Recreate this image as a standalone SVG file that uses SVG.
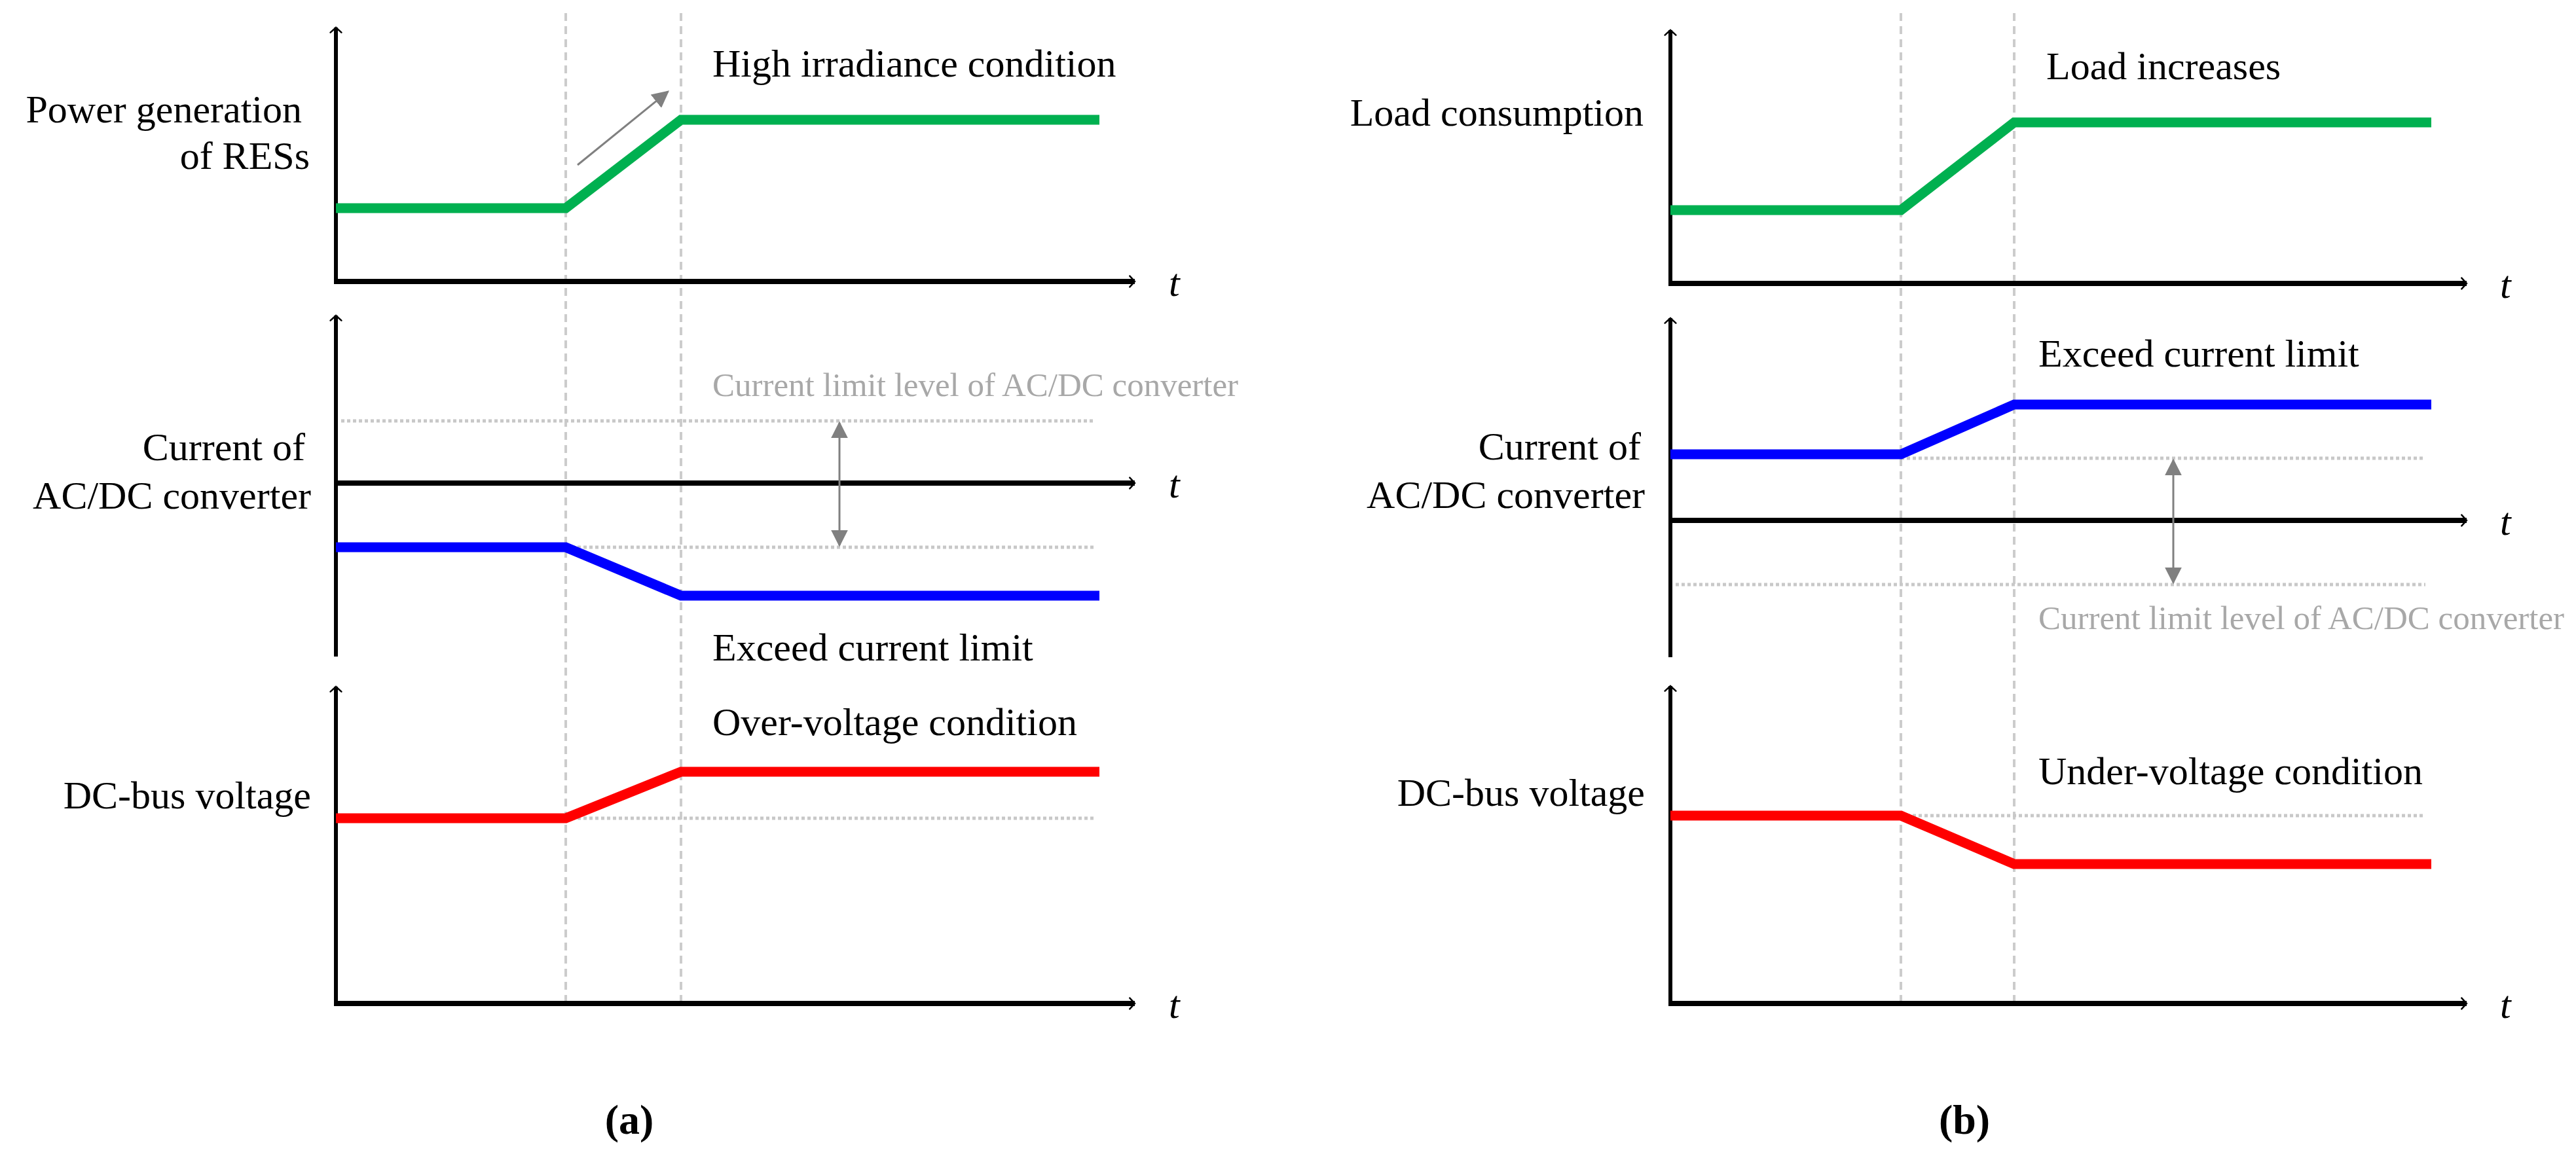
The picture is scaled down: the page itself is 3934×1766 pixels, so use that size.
<svg xmlns="http://www.w3.org/2000/svg" width="3934" height="1766" viewBox="0 0 3934 1766">
<defs>
<marker id="chev" viewBox="0 0 20 20" refX="17" refY="10" markerWidth="7" markerHeight="7" markerUnits="userSpaceOnUse" orient="auto" overflow="visible">
<path d="M-22,-14 L0,10 L-22,34" transform="translate(17,0)" fill="none" stroke="#000" stroke-width="7" stroke-linecap="round" stroke-linejoin="miter"/>
</marker>
<marker id="gh" viewBox="0 0 10 10" refX="9" refY="5" markerWidth="26" markerHeight="26" markerUnits="userSpaceOnUse" orient="auto-start-reverse">
<path d="M0,0 L10,5 L0,10 Z" fill="#808080"/>
</marker>
</defs>
<style>
text{font-family:"Liberation Serif","Times New Roman",serif;fill:#000;font-size:60px}
.lbl{text-anchor:end}
.gray{fill:#a8a8a8;font-size:51px}
.t{font-style:italic}
.cap{font-weight:bold;font-size:64px;text-anchor:middle}
.ax{stroke:#000;stroke-width:6;fill:none}
.xax{stroke:#000;stroke-width:8;fill:none}
.vd{stroke:#cccccc;stroke-width:4;stroke-dasharray:12 8;fill:none}
.hd{stroke:#c8c8c8;stroke-width:5;stroke-dasharray:5 4;fill:none}
.g{stroke:#00b050;stroke-width:15;fill:none;stroke-linejoin:miter}
.b{stroke:#0000ff;stroke-width:15;fill:none}
.r{stroke:#ff0000;stroke-width:15;fill:none}
.ga{stroke:#808080;stroke-width:3;fill:none}
</style>
<g id="connectors">
<!-- panel a -->
<line class="vd" x1="864" y1="20" x2="864" y2="1530"/>
<line class="vd" x1="1040" y1="20" x2="1040" y2="1530"/>
<line class="hd" x1="521" y1="643" x2="1670" y2="643"/>
<line class="hd" x1="864" y1="836" x2="1670" y2="836"/>
<line class="hd" x1="864" y1="1250" x2="1670" y2="1250"/>
<line class="ax" x1="513" y1="433" x2="513" y2="42" marker-end="url(#chev)"/>
<line class="xax" x1="510" y1="430" x2="1733" y2="430" marker-end="url(#chev)"/>
<line class="ax" x1="513" y1="1003" x2="513" y2="482" marker-end="url(#chev)"/>
<line class="xax" x1="513" y1="738" x2="1733" y2="738" marker-end="url(#chev)"/>
<line class="ax" x1="513" y1="1536" x2="513" y2="1049" marker-end="url(#chev)"/>
<line class="xax" x1="510" y1="1533" x2="1733" y2="1533" marker-end="url(#chev)"/>
<polyline class="g" points="513,318 864,318 1040,183 1679,183"/>
<polyline class="b" points="513,836 864,836 1040,910 1679,910"/>
<polyline class="r" points="513,1250 864,1250 1040,1179 1679,1179"/>
<line class="ga" x1="882" y1="252" x2="1020" y2="140" marker-end="url(#gh)"/>
<line class="ga" x1="1282" y1="646" x2="1282" y2="833" marker-start="url(#gh)" marker-end="url(#gh)"/>
<!-- panel b -->
<line class="vd" x1="2903" y1="20" x2="2903" y2="1530"/>
<line class="vd" x1="3076" y1="20" x2="3076" y2="1530"/>
<line class="hd" x1="2903" y1="700" x2="3704" y2="700"/>
<line class="hd" x1="2559" y1="893" x2="3704" y2="893"/>
<line class="hd" x1="2903" y1="1246" x2="3704" y2="1246"/>
<line class="ax" x1="2551" y1="436" x2="2551" y2="46" marker-end="url(#chev)"/>
<line class="xax" x1="2548" y1="433" x2="3767" y2="433" marker-end="url(#chev)"/>
<line class="ax" x1="2551" y1="1004" x2="2551" y2="486" marker-end="url(#chev)"/>
<line class="xax" x1="2551" y1="795" x2="3767" y2="795" marker-end="url(#chev)"/>
<line class="ax" x1="2551" y1="1536" x2="2551" y2="1048" marker-end="url(#chev)"/>
<line class="xax" x1="2548" y1="1533" x2="3767" y2="1533" marker-end="url(#chev)"/>
<polyline class="g" points="2551,321 2903,321 3076,187 3713,187"/>
<polyline class="b" points="2551,694 2903,694 3076,618 3713,618"/>
<polyline class="r" points="2551,1246 2903,1246 3076,1320 3713,1320"/>
<line class="ga" x1="3319" y1="703" x2="3319" y2="890" marker-start="url(#gh)" marker-end="url(#gh)"/>
</g>
<g id="panel-a-text">
<text class="lbl" x="461" y="187">Power generation</text>
<text class="lbl" x="473" y="258">of RESs</text>
<text x="1088" y="117">High irradiance condition</text>
<text class="t" x="1785" y="452">t</text>
<text class="gray" x="1088" y="605">Current limit level of AC/DC converter</text>
<text class="lbl" x="466" y="703">Current of</text>
<text class="lbl" x="475" y="777">AC/DC converter</text>
<text class="t" x="1785" y="760">t</text>
<text x="1088" y="1009">Exceed current limit</text>
<text x="1088" y="1123">Over-voltage condition</text>
<text class="lbl" x="475" y="1235">DC-bus voltage</text>
<text class="t" x="1785" y="1555">t</text>
<text class="cap" x="961" y="1732">(a)</text>
</g>
<g id="panel-b-text">
<text class="lbl" x="2510" y="192">Load consumption</text>
<text x="3125" y="121">Load increases</text>
<text class="t" x="3818" y="455">t</text>
<text x="3113" y="560">Exceed current limit</text>
<text class="lbl" x="2506" y="702">Current of</text>
<text class="lbl" x="2512" y="776">AC/DC converter</text>
<text class="t" x="3818" y="817">t</text>
<text class="gray" x="3113" y="961">Current limit level of AC/DC converter</text>
<text x="3113" y="1198">Under-voltage condition</text>
<text class="lbl" x="2512" y="1231">DC-bus voltage</text>
<text class="t" x="3818" y="1555">t</text>
<text class="cap" x="3000" y="1732">(b)</text>
</g>
</svg>
